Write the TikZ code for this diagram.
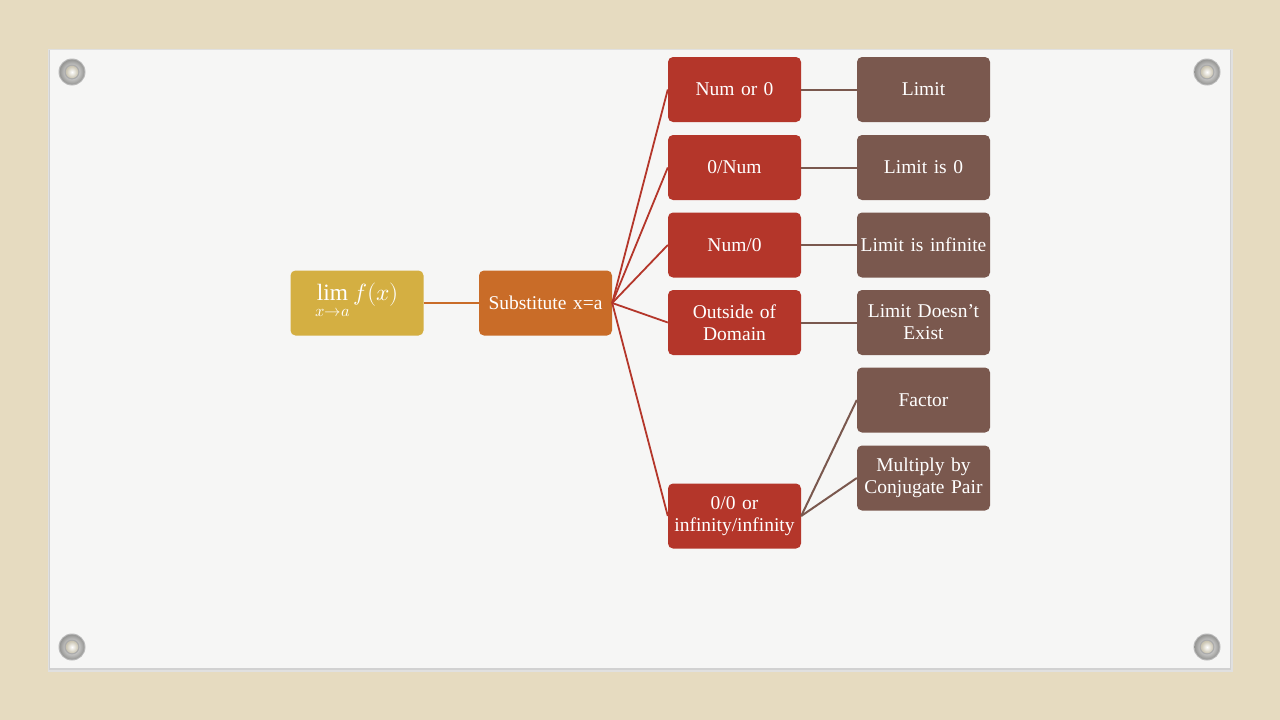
\documentclass[tikz,border=0pt]{standalone}
\usepackage{unicode-math}
\setmainfont{Liberation Serif}
\setmathfont{Latin Modern Math}
\definecolor{bgbeige}{RGB}{230,219,192}
\definecolor{paper}{RGB}{246,246,245}
\definecolor{goldc}{RGB}{212,175,66}
\definecolor{orangec}{RGB}{201,108,40}
\definecolor{redc}{RGB}{180,54,42}
\definecolor{brownc}{RGB}{122,88,78}
\definecolor{pinring}{RGB}{150,150,148}
\definecolor{pinin}{RGB}{200,194,175}
\tikzset{
  box/.style={rounded corners=5pt, minimum width=133pt, minimum height=65pt,
    text width=131pt, align=center, inner sep=1pt, text=white,
    font=\fontsize{19.5}{22}\selectfont},
  goldbox/.style={box, fill=goldc},
  orangebox/.style={box, fill=orangec},
  redbox/.style={box, fill=redc},
  brownbox/.style={box, fill=brownc},
  oline/.style={draw=orangec, line width=2pt},
  rline/.style={draw=redc, line width=1.8pt},
  bline/.style={draw=brownc, line width=2pt},
  pin/.pic={
    \fill[gray!55] (0,0) circle (13.5);
    \shade[inner color=white, outer color=pinring] (0,0) circle (12.5);
    \fill[gray!65] (0,0) circle (7.5);
    \shade[inner color=white, outer color=pinin] (0,0) circle (6.2);
  }
}
\begin{document}
\begin{tikzpicture}[x=1pt,y=-1pt]
\useasboundingbox (0,0) rectangle (1280,720);
\fill[bgbeige] (0,0) rectangle (1280,720);
% paper shadow
\fill[black!12] (48,49) rectangle (1233,672);
\fill[black!18] (49,50) rectangle (1231,670);
\fill[paper] (50,50) rectangle (1230,668);
% pins
\pic at (72,72) {pin};
\pic at (1207,72) {pin};
\pic at (72,647) {pin};
\pic at (1207,647) {pin};
% nodes
\node[goldbox] (lim) at (357,303) {\raisebox{4pt}{\scalebox{1.2}{$\displaystyle\lim_{\vphantom{|}x\to a} f(x)$}}};
\node[orangebox] (sub) at (545.5,303) {Substitute x=a};
\node[redbox] (r1) at (734.5,89.5) {Num or 0};
\node[redbox] (r2) at (734.5,167.5) {0/Num};
\node[redbox] (r3) at (734.5,245) {Num/0};
\node[redbox] (r4) at (734.5,322.5) {Outside of\\Domain};
\node[redbox] (r5) at (734.5,516) {0/0 or\\infinity/infinity};
\node[brownbox] (b1) at (923.5,89.5) {Limit};
\node[brownbox] (b2) at (923.5,167.5) {Limit is 0};
\node[brownbox] (b3) at (923.5,245) {Limit is infinite};
\node[brownbox] (b4) at (923.5,322.5) {Limit Doesn't\\Exist};
\node[brownbox] (b5) at (923.5,400) {Factor};
\node[brownbox] (b6) at (923.5,478) {Multiply by\\Conjugate Pair};
% connectors
\draw[oline] (lim.east) -- (sub.west);
\foreach \r in {r1,r2,r3,r4,r5}{\draw[rline] (sub.east) -- (\r.west);}
\draw[bline] (r1.east) -- (b1.west);
\draw[bline] (r2.east) -- (b2.west);
\draw[bline] (r3.east) -- (b3.west);
\draw[bline] (r4.east) -- (b4.west);
\draw[bline] (r5.east) -- (b5.west);
\draw[bline] (r5.east) -- (b6.west);
\end{tikzpicture}
\end{document}
